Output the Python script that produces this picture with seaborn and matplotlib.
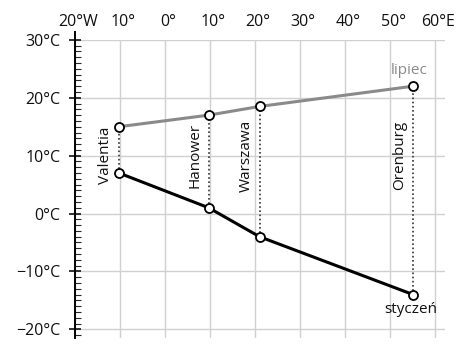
import pandas as pd
import seaborn as sns
import matplotlib.pyplot as plt
from matplotlib.ticker import MultipleLocator
from matplotlib.transforms import ScaledTranslation

# --- DATA ---
cities = ['Valentia', 'Hanower', 'Warszawa', 'Orenburg']
longitude = [-10.2, 9.7, 21.0, 55.1]
temp_july = [15.0, 17.0, 18.5, 22.0]
temp_january = [7.0, 1.0, -4.0, -14.0]

lon_ticks = [-20, -10, 0, 10, 20, 30, 40, 50, 60]
lon_labels = ['20°W', '10°', '0°', '10°', '20°', '30°', '40°', '50°', '60°E']
temp_ticks = [-20, -10, 0, 10, 20, 30]
temp_labels = ['−20°C', '−10°C', '0°C', '10°C', '20°C', '30°C']

df = pd.DataFrame({
    'Miasto': cities * 2,
    'Długość': longitude * 2,
    'Temperatura': temp_july + temp_january,
    'Miesiąc': ['lipiec'] * 4 + ['styczeń'] * 4,
})

sns.set_style("white")
plt.rcParams['font.family'] = ['Open Sans', 'DejaVu Sans']

fig = plt.figure(figsize=(4.74, 3.53), dpi=100)
ax = fig.add_axes([0.158, 0.0425, 0.781, 0.8445])

# dotted connectors between January and July for each city
ax.vlines(longitude, temp_january, temp_july, colors='#333333',
          linestyles=(0, (1, 1.5)), linewidth=1.2, zorder=2)

sns.lineplot(
    data=df, x='Długość', y='Temperatura', hue='Miesiąc',
    palette={'lipiec': '#8a8a8a', 'styczeń': '#000000'},
    linewidth=2.2, marker='o', markersize=6.5, markerfacecolor='white',
    markeredgecolor='black', markeredgewidth=1.3, legend=False,
    sort=False, ax=ax, zorder=3,
)

# city names, rotated, left of the connectors
for name, x in zip(cities, longitude):
    ax.text(x - 3.0, 10, name, rotation=90, ha='center', va='center',
            fontsize=11, color='#111111')

ax.text(longitude[-1] - 0.8, temp_july[-1] + 1.5, 'lipiec', ha='center',
        va='bottom', fontsize=11, color='#8a8a8a')
ax.text(longitude[-1] - 0.5, temp_january[-1] - 1.2, 'styczeń', ha='center',
        va='top', fontsize=11, color='#111111')

ax.set_xlim(-20, 62.2)
ax.set_ylim(-21.5, 30)
ax.set_xticks(lon_ticks)
ax.set_xticklabels(lon_labels)
ax.set_yticks(temp_ticks)
ax.set_yticklabels(temp_labels)
ax.yaxis.set_minor_locator(MultipleLocator(1))
ax.xaxis.tick_top()
ax.tick_params(axis='x', length=0, labelsize=11.5, pad=7, colors='#111111')
ax.tick_params(axis='y', which='major', direction='inout', length=9,
               width=1.2, labelsize=11.5, pad=6, left=True, colors='#111111')
ax.tick_params(axis='y', which='minor', direction='in', length=4,
               width=0.8, left=True)
ax.set_xlabel('')
ax.set_ylabel('')

# top labels sit slightly right of their grid lines in the original
shift = ScaledTranslation(3 / 100, 0, fig.dpi_scale_trans)
for lbl in ax.get_xticklabels():
    lbl.set_transform(lbl.get_transform() + shift)

ax.grid(True, which='major', color='#d0d0d0', linewidth=1.0)
for side in ['top', 'right', 'bottom']:
    ax.spines[side].set_visible(False)
ax.spines['left'].set_color('black')
ax.spines['left'].set_linewidth(1.4)
ax.spines['left'].set_bounds(-21.5, 31.4)

fig.savefig('out.png', dpi=100)
